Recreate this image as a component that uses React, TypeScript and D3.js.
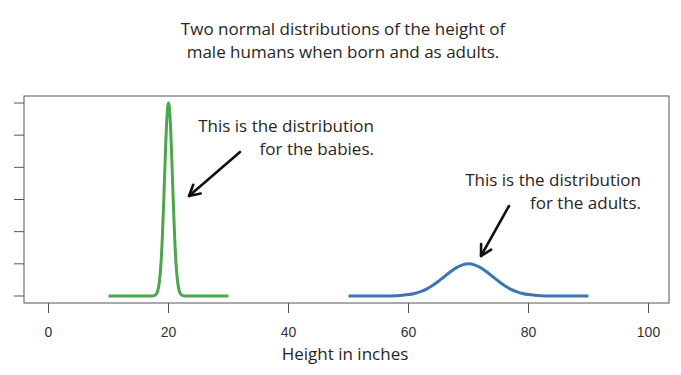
import React from "react";
import * as d3 from "d3";

const W = 681;
const H = 375;

// Babies' height distribution (inches, density)
const babyX = [10, 17, 17.5, 18, 18.25, 18.5, 18.75, 19, 19.25, 19.5, 19.75, 20, 20.25, 20.5, 20.75, 21, 21.25, 21.5, 21.75, 22, 22.5, 23, 30];
const babyY = [0, 0, 0.0005, 0.0065, 0.019, 0.047, 0.102, 0.194, 0.318, 0.452, 0.559, 0.6, 0.559, 0.452, 0.318, 0.194, 0.102, 0.047, 0.019, 0.0065, 0.0005, 0, 0];

// Adults' height distribution
const adultX = [50, 54, 56, 58, 59, 60, 61, 62, 63, 64, 65, 66, 67, 68, 69, 70, 71, 72, 73, 74, 75, 76, 77, 78, 79, 80, 81, 82, 84, 86, 90];
const adultY = [0, 0.00003, 0.0002, 0.0011, 0.0023, 0.0044, 0.008, 0.0135, 0.0216, 0.0325, 0.0458, 0.0607, 0.0755, 0.0882, 0.0969, 0.1, 0.0969, 0.0882, 0.0755, 0.0607, 0.0458, 0.0325, 0.0216, 0.0135, 0.008, 0.0044, 0.0023, 0.0011, 0.0002, 0.00003, 0];

const xTicks = [0, 20, 40, 60, 80, 100];
const yTicks = [0, 0.1, 0.2, 0.3, 0.4, 0.5, 0.6];

const titleLines = ["Two normal distributions of the height of", "male humans when born and as adults."];
const babyNote = ["This is the distribution", "for the babies."];
const adultNote = ["This is the distribution", "for the adults."];
const xLabel = "Height in inches";

const box = { left: 24, right: 669, top: 96, bottom: 303 };

export default function App() {
  const x = d3.scaleLinear().domain([0, 100]).range([48.5, 648.5]);
  const y = d3.scaleLinear().domain([0, 0.6]).range([296, 103]);

  const line = d3
    .line<[number, number]>()
    .x((d) => x(d[0]))
    .y((d) => y(d[1]))
    .curve(d3.curveMonotoneX);

  const babyPts = babyX.map((v, i) => [v, babyY[i]] as [number, number]);
  const adultPts = adultX.map((v, i) => [v, adultY[i]] as [number, number]);

  const sans = "'Open Sans', sans-serif";
  const arial = "'Liberation Sans', Arial, sans-serif";

  const arrow = (x1: number, y1: number, x2: number, y2: number) => {
    const ang = Math.atan2(y2 - y1, x2 - x1);
    const len = 12;
    const spread = 0.5;
    const a1 = ang + Math.PI - spread;
    const a2 = ang + Math.PI + spread;
    const p1 = [x2 + len * Math.cos(a1), y2 + len * Math.sin(a1)];
    const p2 = [x2 + len * Math.cos(a2), y2 + len * Math.sin(a2)];
    return (
      <g stroke="#111" strokeWidth={2.6} fill="none" strokeLinecap="round" strokeLinejoin="round">
        <line x1={x1} y1={y1} x2={x2} y2={y2} />
        <polyline points={`${p1[0]},${p1[1]} ${x2},${y2} ${p2[0]},${p2[1]}`} />
      </g>
    );
  };

  return (
    <svg width={W} height={H} style={{ position: "absolute", left: 0, top: 0, background: "#fff" }}>
      <rect x={0} y={0} width={W} height={H} fill="#fff" />
      {titleLines.map((t, i) => (
        <text key={i} x={343} y={35 + i * 23} textAnchor="middle" fontFamily={sans} fontSize={17} fill="#262626">
          {t}
        </text>
      ))}

      {/* plot box */}
      <rect x={box.left} y={box.top} width={box.right - box.left} height={box.bottom - box.top} fill="none" stroke="#555" strokeWidth={1} />

      {/* y ticks */}
      {yTicks.map((t) => (
        <line key={t} x1={14} x2={box.left} y1={y(t)} y2={y(t)} stroke="#555" strokeWidth={1} />
      ))}

      {/* x ticks */}
      {xTicks.map((t) => (
        <g key={t}>
          <line x1={x(t)} x2={x(t)} y1={box.bottom} y2={box.bottom + 10} stroke="#555" strokeWidth={1} />
          <text x={x(t)} y={337} textAnchor="middle" fontFamily={arial} fontSize={14} fill="#333">
            {t}
          </text>
        </g>
      ))}
      <text x={345} y={360} textAnchor="middle" fontFamily={sans} fontSize={17} fill="#262626">
        {xLabel}
      </text>

      <path d={line(babyPts) || ""} fill="none" stroke="#4ca64c" strokeWidth={3} />
      <path d={line(adultPts) || ""} fill="none" stroke="#3b76b0" strokeWidth={3} />

      {babyNote.map((t, i) => (
        <text key={i} x={374} y={132 + i * 22.5} textAnchor="end" fontFamily={sans} fontSize={17} fill="#262626">
          {t}
        </text>
      ))}
      {adultNote.map((t, i) => (
        <text key={i} x={641} y={186 + i * 22.5} textAnchor="end" fontFamily={sans} fontSize={17} fill="#262626">
          {t}
        </text>
      ))}

      {arrow(240, 152, 189, 196)}
      {arrow(509, 206, 481, 256)}
    </svg>
  );
}
